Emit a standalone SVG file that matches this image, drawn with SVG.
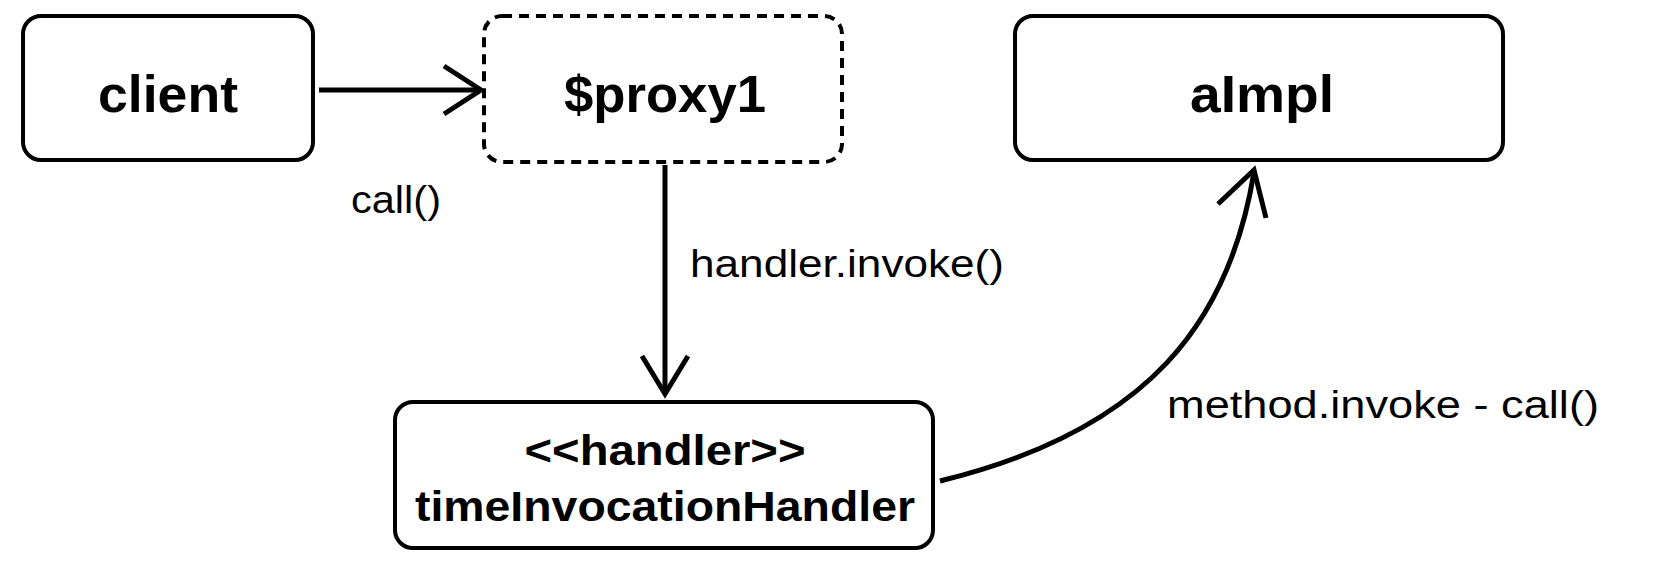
<svg xmlns="http://www.w3.org/2000/svg" width="1660" height="570" viewBox="0 0 1660 570">
<style>
.box{fill:#fff;stroke:#000;stroke-width:4}
.dash{stroke-dasharray:10 7}
.t{font-family:"Liberation Sans",Arial,sans-serif;font-weight:bold;font-size:52px;text-anchor:middle}
.tb{font-family:"Liberation Sans",Arial,sans-serif;font-weight:bold;font-size:42px;text-anchor:middle}
.l{font-family:"Liberation Sans",Arial,sans-serif;font-size:38px}
.c{fill:none;stroke:#000;stroke-width:5}
</style>
<rect width="1660" height="570" fill="#fff"/>
<g id="client"><rect class="box" x="23" y="16" width="290" height="144" rx="18"/><text class="t" x="168" y="112" textLength="140" lengthAdjust="spacingAndGlyphs">client</text></g>
<g id="proxy"><rect class="box dash" x="484" y="16" width="358" height="146" rx="18"/><text class="t" x="665" y="112" textLength="202" lengthAdjust="spacingAndGlyphs">$proxy1</text></g>
<g id="aImpl"><rect class="box" x="1015" y="16" width="488" height="144" rx="18"/><text class="t" x="1262" y="112" textLength="144" lengthAdjust="spacingAndGlyphs">aImpl</text></g>
<g id="handler"><rect class="box" x="395" y="402" width="538" height="146" rx="18"/><text class="tb" x="665" y="465" textLength="281" lengthAdjust="spacingAndGlyphs">&lt;&lt;handler&gt;&gt;</text><text class="tb" x="665" y="521" textLength="500" lengthAdjust="spacingAndGlyphs">timeInvocationHandler</text></g>
<g id="connectors">
<path class="c" d="M319 90 H479"/><path class="c" d="M444 66 L481 90 L444 114"/>
<path class="c" d="M665 165 V394"/><path class="c" d="M642 356 L665 394 L688 356"/>
<path class="c" d="M940 481 C1150 430 1230 320 1254 172"/><path class="c" d="M1218 204 L1254 170 L1266 218"/>
</g>
<g id="labels">
<text class="l" x="351" y="213" textLength="90" lengthAdjust="spacingAndGlyphs">call()</text>
<text class="l" x="690" y="277" textLength="314" lengthAdjust="spacingAndGlyphs">handler.invoke()</text>
<text class="l" x="1167" y="418" textLength="432" lengthAdjust="spacingAndGlyphs">method.invoke - call()</text>
</g>
</svg>
